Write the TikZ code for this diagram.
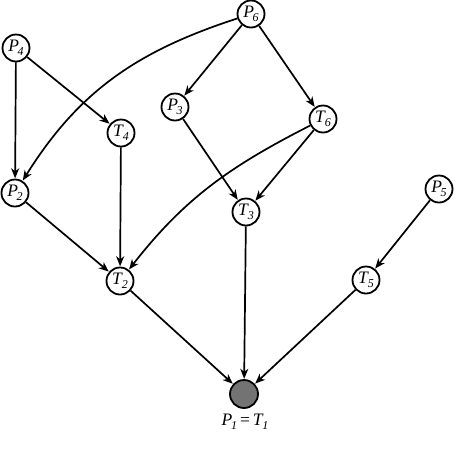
\documentclass[tikz,border=0pt]{standalone}
\usepackage{fontspec}
\setmainfont{Liberation Serif}
\usetikzlibrary{arrows.meta}
\newcommand\lab[2]{\textit{#1}\kern-1.2pt\raisebox{-0.45ex}{\fontsize{12}{13}\selectfont\textit{#2}}}
\tikzset{
  vert/.style={circle,draw,line width=1.8pt,minimum size=27pt,inner sep=0pt,fill=white,font=\fontsize{17.5}{19}\selectfont},
  term/.style={circle,draw,line width=1.8pt,minimum size=28pt,inner sep=0pt,fill=black!55},
  edge/.style={line width=1.7pt,-{Stealth[length=10pt,width=8pt,inset=3pt]},shorten >=0.3pt},
  caption/.style={font=\fontsize{17.5}{19}\selectfont,inner sep=0pt}
}
\begin{document}
\begin{tikzpicture}[x=1pt,y=-1pt]
\useasboundingbox (0,0) rectangle (474,448);
\node[vert] (P6) at (251,14) {\lab{P}{6}};
\node[vert] (P4) at (16,48) {\lab{P}{4}};
\node[vert] (T4) at (121,133) {\lab{T}{4}};
\node[vert] (P3) at (175,107) {\lab{P}{3}};
\node[vert] (T6) at (323,119) {\lab{T}{6}};
\node[vert] (P2) at (15,193) {\lab{P}{2}};
\node[vert] (T3) at (246,212) {\lab{T}{3}};
\node[vert] (P5) at (439,189) {\lab{P}{5}};
\node[vert] (T2) at (120,281) {\lab{T}{2}};
\node[vert] (T5) at (366,280) {\lab{T}{5}};
\node[term] (P1) at (244,394) {};
\node[caption] (L1) at (245,422) {\lab{P}{1}\,=\,\lab{T}{1}};
\draw[edge] (P4) -- (P2);
\draw[edge] (P4) -- (T4);
\draw[edge] (T4) -- (T2);
\draw[edge] (P2) -- (T2);
\draw[edge] (P6) to[out=198,in=58] (P2);
\draw[edge] (P6) -- (P3);
\draw[edge] (P6) -- (T6);
\draw[edge] (P3) -- (T3);
\draw[edge] (T6) -- (T3);
\draw[edge] (T6) to[out=207,in=52] (T2);
\draw[edge] (T3) -- (P1);
\draw[edge] (T2) -- (P1);
\draw[edge] (T5) -- (P1);
\draw[edge] (P5) -- (T5);
\end{tikzpicture}
\end{document}
